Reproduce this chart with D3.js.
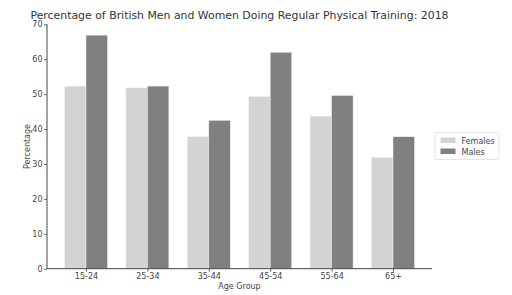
<!DOCTYPE html>
<html>
<head>
<meta charset="utf-8">
<script src="https://cdn.jsdelivr.net/npm/d3@7"></script>
<style>
  body { margin: 0; background: #fff; }
  text { font-family: "DejaVu Sans", sans-serif; }
</style>
</head>
<body>
<svg id="chart"></svg>
<script>
const ageGroups = ["15-24", "25-34", "35-44", "45-54", "55-64", "65+"];
const females = [52.3, 51.8, 37.8, 49.3, 43.7, 31.9];
const males = [66.9, 52.3, 42.5, 62.0, 49.6, 37.8];
const yTicks = [0, 10, 20, 30, 40, 50, 60, 70];
const seriesNames = ["Females", "Males"];
const seriesColors = ["#d3d3d3", "#808080"];

const w = 512, h = 295;
const plotLeft = 47, plotRight = 432, plotTop = 24.3, plotBottom = 268.7;
const barW = 0.35;

const svg = d3.select("#chart").attr("width", w).attr("height", h);

const x = d3.scaleLinear().domain([-0.635, 5.635]).range([plotLeft, plotRight]);
const y = d3.scaleLinear().domain([0, 70]).range([plotBottom, plotTop]);

// bars
const series = [females, males];
series.forEach((vals, s) => {
    svg.append("g").selectAll("rect")
        .data(vals)
        .enter()
        .append("rect")
        .attr("x", (d, i) => x(i + (s === 0 ? -barW : 0)))
        .attr("width", x(barW) - x(0))
        .attr("y", d => y(d))
        .attr("height", d => y(0) - y(d))
        .attr("fill", seriesColors[s])
        .attr("stroke", "#f0f0f0")
        .attr("stroke-width", 0.5);
});

// axes
const yAxis = svg.append("g")
    .attr("transform", `translate(${plotLeft},0)`)
    .call(d3.axisLeft(y).tickValues(yTicks).tickSize(3).tickPadding(1.5));
const xAxis = svg.append("g")
    .attr("transform", `translate(0,${plotBottom})`)
    .call(d3.axisBottom(x).tickValues(d3.range(ageGroups.length))
        .tickFormat(i => ageGroups[i]).tickSize(3).tickPadding(1.5));
[xAxis, yAxis].forEach(a => {
    a.select(".domain").attr("stroke", "#444").attr("stroke-width", 1);
    a.selectAll(".tick line").attr("stroke", "#444").attr("stroke-width", 0.8);
    a.selectAll(".tick text").attr("fill", "#444").style("font-size", "8px")
        .style("font-family", "DejaVu Sans");
});
// keep the spines as plain lines
xAxis.select(".domain").attr("d", `M${plotLeft},0H${plotRight}`);
yAxis.select(".domain").attr("d", `M0,${plotBottom}V${plotTop}`);

// title and labels
svg.append("text")
    .attr("x", (plotLeft + plotRight) / 2)
    .attr("y", 18.5)
    .attr("text-anchor", "middle")
    .attr("fill", "#333")
    .style("font-size", "10.9px")
    .text("Percentage of British Men and Women Doing Regular Physical Training: 2018");

svg.append("text")
    .attr("x", (plotLeft + plotRight) / 2)
    .attr("y", 289)
    .attr("text-anchor", "middle")
    .attr("fill", "#444")
    .style("font-size", "8px")
    .text("Age Group");

svg.append("text")
    .attr("transform", `translate(30,${(plotTop + plotBottom) / 2}) rotate(-90)`)
    .attr("text-anchor", "middle")
    .attr("fill", "#444")
    .style("font-size", "8px")
    .text("Percentage");

// legend
const legend = svg.append("g").attr("transform", "translate(435,132.5)");
legend.append("rect")
    .attr("width", 64).attr("height", 27).attr("rx", 2)
    .attr("fill", "#fff").attr("stroke", "#ddd").attr("stroke-width", 0.8);
seriesNames.forEach((name, i) => {
    legend.append("rect")
        .attr("x", 5.5).attr("y", 5 + i * 11)
        .attr("width", 15).attr("height", 5.5)
        .attr("fill", seriesColors[i]);
    legend.append("text")
        .attr("x", 26.5).attr("y", 11 + i * 11)
        .attr("fill", "#444")
        .style("font-size", "8px")
        .text(name);
});
</script>
</body>
</html>
